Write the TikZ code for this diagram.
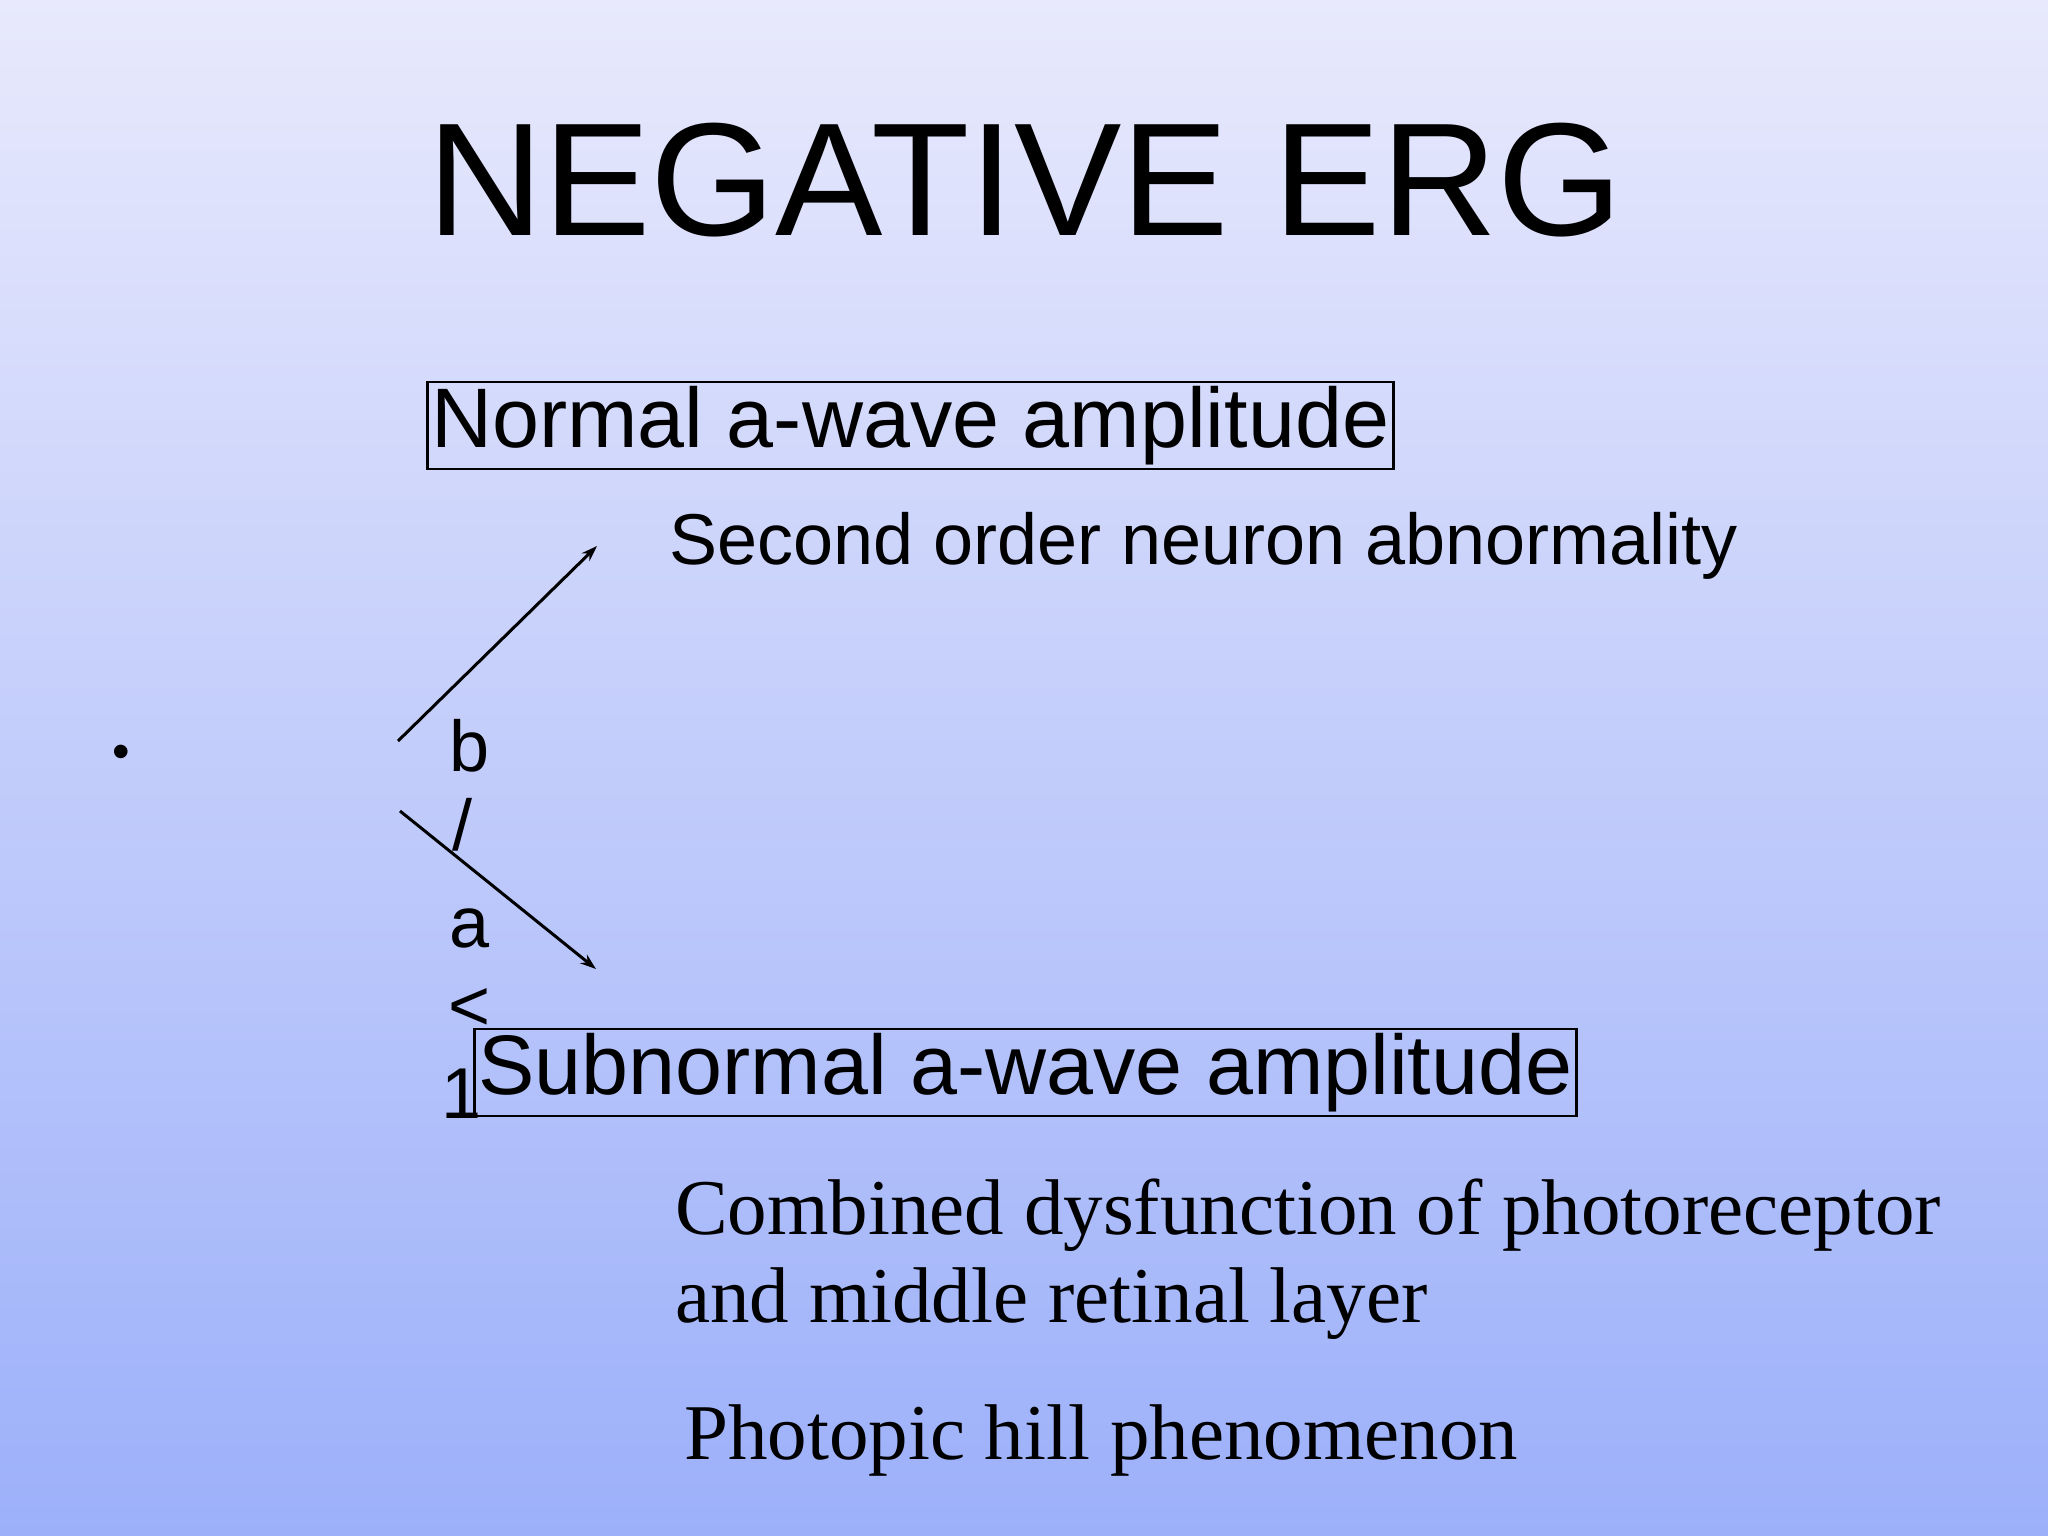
\documentclass[tikz,border=0pt]{standalone}
\usepackage{fontspec}
\usetikzlibrary{arrows.meta}
\setmainfont{Liberation Sans}
\newfontfamily\serifx{Liberation Serif}
\definecolor{topc}{RGB}{232,233,252}
\definecolor{botc}{RGB}{156,176,250}
\begin{document}
\begin{tikzpicture}[x=1pt,y=-1pt,
  sans/.style={inner sep=0pt,anchor=base west,font=\fontsize{72}{80}\selectfont},
  boxed/.style={draw,line width=2.5pt,inner sep=4pt,font=\fontsize{84.5}{90}\selectfont},
  arr/.style={line width=3pt,-{Stealth[length=16pt,width=11pt]}},
  serf/.style={inner sep=0pt,anchor=base west,font=\serifx\fontsize{79}{88}\selectfont}]
\useasboundingbox (0,0) rectangle (2048,1536);
\shade[top color=topc,bottom color=botc] (0,0) rectangle (2048,1536);
\node[inner sep=0pt,anchor=base,font=\fontsize{161}{170}\selectfont] (title) at (1025,235) {NEGATIVE ERG};
\node[boxed,anchor=south west] (nbox) at (426,470) {Normal a-wave amplitude};
\node[sans] (second) at (669,564) {Second order neuron abnormality};
\node[sans,anchor=base,font=\fontsize{50}{60}\selectfont] (dot) at (121,768) {•};
\node[sans,anchor=base] (b) at (470,771) {b};
\node[sans,anchor=base] (sl) at (462,850) {/};
\node[sans,anchor=base] (a) at (470,947) {a};
\node[sans,anchor=base] (lt) at (470,1030) {<};
\node[sans,anchor=base] (one) at (462,1118) {1};
\coordinate (s1) at (398,741); \coordinate (e1) at (597,546);
\coordinate (s2) at (400,811); \coordinate (e2) at (596,969);
\draw[arr] (s1) -- (e1);
\draw[arr] (s2) -- (e2);
\node[boxed,anchor=south west] (sbox) at (473,1117) {Subnormal a-wave amplitude};
\node[serf] (comb1) at (675,1234) {Combined dysfunction of photoreceptor};
\node[serf] (comb2) at (675,1322) {and middle retinal layer};
\node[serf] (photo) at (684,1459) {Photopic hill phenomenon};
\end{tikzpicture}
\end{document}
